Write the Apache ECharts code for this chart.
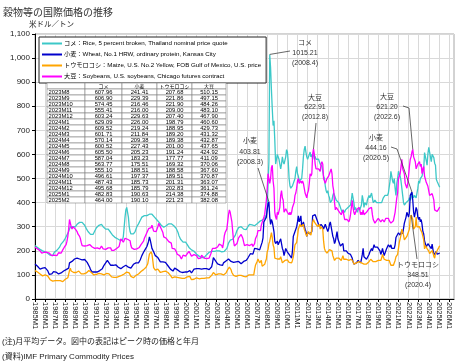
<!DOCTYPE html>
<html><head><meta charset="utf-8">
<script src="https://cdn.jsdelivr.net/npm/echarts@6/dist/echarts.min.js"></script>
<style>html,body{margin:0;padding:0;background:#fff}#c{width:474px;height:363px}</style>
</head><body><div id="c"></div>
<script>
// ---------- data ----------
const FONT = "'Liberation Sans','Noto Sans CJK JP',sans-serif";
const categories = [];
for (let y = 1985; y <= 2026; y++) for (let m = 1; m <= 12; m++) { if (y === 2026 && m > 7) break; categories.push(y + 'M' + m); }

const seriesNames = [
  'コメ：Rice, 5 percent broken, Thailand nominal price quote',
  '小麦：Wheat, No.1 HRW, ordinary protein, Kansas City',
  'トウモロコシ：Maize, U.S. No.2 Yellow, FOB Gulf of Mexico, U.S. price',
  '大豆：Soybeans, U.S. soybeans, Chicago futures contract'
];
const tableHeader = ['', 'コメ', '小麦', 'トウモロコシ', '大豆'];
const yTicks = [0, 1100, 100];

const rice = [
222,220,216,214,212,208,206,210,206,200,198,196,
196,194,192,190,188,186,182,180,178,180,186,194,
196,198,202,206,210,214,220,228,234,236,240,246,
252,260,266,272,280,290,300,306,304,300,296,296,
300,306,310,312,316,318,320,320,318,314,310,306,
298,292,286,280,276,272,268,266,266,268,276,282,
290,296,300,304,306,308,310,310,304,300,298,294,
290,292,294,290,288,284,276,272,266,262,258,256,
254,252,250,248,246,244,242,240,244,260,300,340,
370,380,376,340,300,280,270,266,266,270,276,280,
290,300,306,312,318,326,334,340,346,348,346,344,
344,346,348,350,352,352,354,352,348,346,340,336,
332,328,324,320,316,312,306,300,298,298,300,302,
304,306,310,312,314,314,312,310,308,304,300,296,
292,286,276,264,256,248,244,240,236,236,238,236,
232,226,220,214,210,206,204,202,200,198,194,190,
186,182,180,178,176,174,172,170,170,172,176,180,
184,188,190,194,196,198,198,200,200,198,198,200,
200,202,202,200,198,198,196,196,198,198,200,204,
210,220,232,240,244,246,246,248,250,256,264,274,
284,290,296,298,300,300,298,296,290,286,286,288,
296,300,306,310,312,310,308,306,304,304,306,308,
312,316,318,322,324,326,328,330,332,336,340,350,
385,480,570,1015.21,960,870,790,720,740,660,560,580,
600,600,580,560,540,560,590,570,560,560,590,620,
610,570,500,470,460,460,470,480,490,500,530,550,
520,510,490,490,490,500,540,590,620,635,610,590,
580,590,600,610,590,600,580,600,600,590,580,580,
580,580,570,560,560,550,530,510,500,470,450,440,
450,430,420,400,400,410,430,440,430,420,410,410,
410,400,390,380,370,360,370,370,360,370,370,370,
380,380,380,390,410,440,440,400,370,380,370,360,
370,380,370,370,390,430,410,380,400,400,390,410,
420,430,420,420,440,420,400,400,410,410,400,400,
400,400,400,400,400,400,420,420,430,430,430,430,
440,440,490,530,510,490,480,500,460,430,480,500,
530,530,510,490,460,430,400,390,390,400,400,400,
410,420,410,420,440,430,420,430,430,420,440,460,
490,480,500,500,510,510,540,607.96,606.90,574.45,555.41,603.24,
629.09,609.52,601.71,570.14,600.52,605.50,587.04,563.77,555.10,496.61,487.43,495.68,
482.83,464.00
];
const wheat = [
145,143,140,136,132,128,124,122,124,128,132,132,
130,126,122,118,112,102,96,98,104,110,114,116,
114,112,110,106,104,102,104,108,112,114,116,118,
120,122,124,126,128,150,156,154,156,160,162,166,
168,168,170,172,170,166,162,160,162,164,166,164,
160,156,152,150,146,132,122,116,112,110,110,112,
112,110,112,116,120,118,112,118,126,134,140,146,
150,156,160,154,150,146,140,136,138,140,142,144,
142,140,136,132,130,128,126,124,130,134,138,142,
140,138,136,132,128,126,128,132,136,144,150,152,
150,148,146,150,156,162,170,180,188,194,200,206,
212,218,228,240,258,244,228,210,204,196,188,180,
176,174,172,168,164,154,148,150,154,158,156,152,
148,144,138,134,130,124,120,118,116,122,128,128,
126,122,120,118,114,112,108,110,114,116,112,110,
110,112,114,116,118,114,108,110,116,124,128,126,
126,124,122,126,128,126,124,126,128,126,128,128,
126,126,124,122,124,126,134,150,172,180,168,156,
150,146,144,142,142,138,134,140,150,156,156,158,
160,164,166,164,160,156,150,150,152,150,152,154,
154,152,156,150,148,146,146,148,156,164,162,160,
164,170,172,176,188,190,194,186,190,210,212,206,
208,212,206,204,202,208,236,254,320,326,322,340,
370,395,403.81,340,310,330,320,300,280,240,230,230,
240,225,230,230,250,250,210,200,180,195,210,205,
195,190,185,185,180,170,200,260,270,270,270,300,
320,345,320,330,345,300,300,320,305,290,280,260,
275,280,280,270,265,280,345,350,350,350,350,330,
320,310,300,300,310,310,300,290,290,310,300,290,
280,290,310,320,320,280,260,250,230,240,260,280,
250,240,230,220,215,220,230,200,195,205,200,195,
190,185,185,185,180,170,155,145,140,145,150,145,
160,165,160,150,165,185,210,175,170,170,165,170,
170,185,195,190,210,200,195,225,215,215,215,215,
215,215,200,185,195,210,195,180,180,200,210,215,
225,220,215,225,210,205,205,210,225,255,250,250,
275,280,265,270,285,270,270,315,315,340,360,365,
340,360,430,435,444.16,410,360,340,360,380,370,340,
330,340,320,330,310,280,270,241.41,229.39,216.46,216.00,229.63,
226.00,219.24,211.84,209.38,227.43,205.23,183.23,175.51,188.51,197.37,185.73,185.79,
190.63,190.10
];
const maize = [
118,116,114,112,110,108,104,100,96,96,98,100,
100,98,98,96,94,88,80,72,72,74,76,78,
76,74,74,76,78,80,76,72,70,72,76,80,
82,84,86,88,96,118,128,116,112,112,110,110,
110,110,112,114,116,114,110,104,100,102,104,104,
106,108,110,114,118,118,116,110,104,102,100,100,
100,102,104,106,106,104,100,104,104,102,100,102,
104,106,106,104,104,102,96,92,92,92,90,90,
90,90,92,94,94,92,96,98,98,100,104,108,
110,112,110,108,108,104,94,90,88,88,90,94,
98,100,102,104,104,108,114,116,120,122,124,128,
132,138,146,168,186,190,196,186,160,130,124,120,
124,122,124,122,116,110,106,110,114,116,118,116,
114,112,110,104,102,98,96,88,86,90,92,92,
92,90,92,90,88,86,82,86,86,88,86,88,
90,92,94,94,94,86,80,76,78,82,86,90,
88,86,86,84,82,82,86,90,88,86,86,88,
88,88,88,88,90,92,98,104,110,106,104,100,
102,104,104,104,106,104,100,98,100,102,104,108,
116,122,128,132,130,122,110,104,98,96,94,94,
94,92,98,96,94,98,106,96,94,92,90,92,
96,100,100,100,104,100,102,96,100,122,140,148,
156,166,166,150,150,160,136,136,140,144,156,166,
196,206,230,240,238,276,256,224,214,170,164,162,
166,158,160,166,176,180,150,150,144,160,164,168,
162,158,152,152,154,150,160,175,200,225,230,235,
260,290,300,310,300,300,300,310,290,280,270,260,
270,280,275,275,265,270,320,330,320,320,310,305,
300,300,310,290,300,300,290,240,210,200,200,190,
190,195,205,210,205,200,180,170,160,160,170,175,
175,170,170,165,160,165,180,165,160,165,165,160,
160,160,155,160,165,170,155,145,145,150,150,150,
150,155,150,150,150,155,155,145,145,145,145,148,
150,155,160,165,165,160,155,155,150,155,155,160,
160,165,160,160,170,185,190,165,160,165,160,160,
160,160,155,140,140,140,140,145,160,175,180,185,
210,235,240,265,290,285,265,245,240,245,260,270,
275,290,335,348.51,340,330,290,290,300,340,300,300,
305,300,290,290,275,270,245,207.68,221.86,221.90,209.00,207.40,
198.79,188.95,189.20,189.38,201.00,191.24,177.77,169.32,188.58,189.51,201.31,202.83,
214.38,221.23
];
const soybeans = [
215,212,210,208,206,204,200,196,190,188,190,194,
196,194,194,196,194,190,188,184,180,178,180,182,
180,178,180,184,192,196,194,190,196,204,210,216,
222,226,240,260,290,330,322,300,290,300,296,298,
290,284,280,270,266,260,250,234,222,220,222,220,
218,218,222,226,228,226,222,218,216,214,210,210,
212,210,212,212,210,208,206,220,220,208,210,206,
206,210,214,212,214,218,212,202,200,198,202,206,
208,210,212,216,218,222,250,252,242,236,240,252,
256,250,248,246,250,242,222,212,206,204,206,208,
210,208,210,212,214,218,226,226,232,240,252,258,
268,274,276,292,296,290,296,306,306,282,274,276,
280,290,300,314,320,316,292,286,276,258,264,262,
252,250,244,238,232,234,232,210,202,204,208,206,
196,186,180,180,180,176,166,174,182,180,178,178,
182,188,194,198,198,192,178,170,180,184,182,188,
180,172,168,166,168,170,182,188,180,170,168,172,
168,168,168,170,174,188,200,210,208,202,210,210,
210,216,220,228,234,232,222,212,232,262,276,276,
290,320,350,370,360,340,320,280,240,220,220,226,
230,238,254,250,252,268,270,252,236,222,222,228,
226,224,222,222,226,224,228,218,216,230,250,256,
266,284,280,278,284,306,318,316,338,352,382,410,
460,520,500,480,500,545,555,490,460,360,340,330,
360,350,345,380,430,450,420,410,360,360,375,370,
360,360,350,360,350,360,380,390,400,430,440,460,
490,500,480,480,490,480,490,480,460,440,440,420,
440,450,480,520,510,520,600,622.91,600,560,540,540,
540,540,540,530,560,570,560,500,500,480,480,500,
500,510,520,530,540,520,470,450,400,370,380,380,
370,370,360,360,350,350,370,350,330,330,330,330,
330,320,330,350,380,410,380,360,350,360,370,370,
370,380,370,350,360,350,370,350,350,355,360,360,
365,375,380,380,380,350,330,330,315,320,325,330,
335,330,330,320,315,330,330,320,320,335,330,340,
335,325,320,315,315,320,325,330,360,390,420,440,
500,510,520,550,580,540,530,520,480,470,460,480,
510,550,580,590,610,621.20,590,580,570,540,540,560,
560,570,550,560,520,540,550,510.15,497.15,484.26,483.10,467.90,
460.60,429.73,431.32,432.87,437.65,424.92,411.09,370.06,367.60,370.87,363.07,361.24,
374.88,382.08
];
const colors = ['#3cc8c8', '#0000cc', '#ffa500', '#ff00ff'];
const allData = [rice, wheat, maize, soybeans];

// annotations: series index, peak category, text lines
const annotations = [
  { s: 0, cat: '2008M4', lines: ['コメ', '1015.21', '(2008.4)'] },
  { s: 3, cat: '2012M8', lines: ['大豆', '622.91', '(2012.8)'] },
  { s: 3, cat: '2022M6', lines: ['大豆', '621.20', '(2022.6)'] },
  { s: 1, cat: '2022M5', lines: ['小麦', '444.16', '(2020.5)'] },
  { s: 1, cat: '2008M3', lines: ['小麦', '403.81', '(2008.3)'] },
  { s: 2, cat: '2022M4', lines: ['トウモロコシ', '348.51', '(2020.4)'] }
];
// layout for annotation text blocks (pixels)
const annoLayout = [
  { x: 305, ys: [43, 53, 63], lead: [[290, 51]] },
  { x: 315, ys: [98, 107, 117], lead: [[316, 123]] },
  { x: 387, ys: [97, 107, 117], lead: [[403, 106], [409, 108]] },
  { x: 376, ys: [138, 148, 158], lead: [[391, 147], [397, 149]] },
  { x: 250, ys: [141, 152, 162], lead: [[258, 168]] },
  { x: 418, ys: [265, 275, 285], lead: [[417, 259]] }
];

// ---------- chart ----------
const chart = echarts.init(document.getElementById('c'), null, { renderer: 'canvas' });
chart.setOption({
  animation: false,
  textStyle: { fontFamily: FONT },
  grid: { left: 35, right: 20, top: 34, bottom: 64, show: true, borderColor: '#a6a6a6', borderWidth: 1 },
  legend: {
    orient: 'vertical', left: 39, top: 37, icon: 'rect', itemWidth: 20, itemHeight: 2, itemGap: 4,
    padding: [3, 5, 3, 3], borderColor: '#222', borderWidth: 1, backgroundColor: '#fff',
    textStyle: { fontSize: 6.2, lineHeight: 7, color: '#000', fontFamily: FONT, padding: [0, 0, 0, -3] },
    data: seriesNames
  },
  xAxis: {
    type: 'category', data: categories, boundaryGap: false,
    axisLine: { lineStyle: { color: '#000', width: 1 } },
    axisTick: { interval: 11, length: 3, lineStyle: { color: '#000' } },
    axisLabel: { interval: 11, rotate: -90, fontSize: 7.5, margin: 3, color: '#222', fontFamily: FONT },
    splitLine: { show: true, interval: 11, lineStyle: { color: '#d9d9d9', width: 1 } }
  },
  yAxis: {
    type: 'value', min: yTicks[0], max: yTicks[1], interval: yTicks[2],
    axisLine: { show: true, lineStyle: { color: '#000' } },
    axisTick: { show: true, length: 3, lineStyle: { color: '#000' } },
    axisLabel: { fontSize: 8, margin: 5, color: '#222', fontFamily: FONT, formatter: v => v.toLocaleString('en-US') },
    splitLine: { lineStyle: { color: '#d9d9d9', width: 1 } }
  },
  series: seriesNames.map((n, i) => ({
    name: n, type: 'line', data: allData[i], showSymbol: false, symbol: 'none',
    lineStyle: { width: 1.3, color: colors[i] }, itemStyle: { color: colors[i] }, z: 2 + i
  }))
});

// ---------- graphics: titles, table, annotations ----------
const g = [];
const txt = (t, x, y, size, opts) => g.push(Object.assign({ type: 'text', z: 100, style: Object.assign({ text: t, x: x, y: y, fontSize: size, fontFamily: FONT, fill: '#222', textVerticalAlign: 'middle' }, opts || {}) }));
txt('穀物等の国際価格の推移', 3, 13, 10, { fill: '#333' });
txt('米ドル／トン', 29, 25, 7.5);
txt('(注)月平均データ。図中の表記はピーク時の価格と年月', 2, 342, 8);
txt('(資料)IMF Primary Commodity Prices', 2, 357, 8);

// table built from the last 19 months of the series
const nRows = 19;
const startIdx = rice.length - nRows;
const rows = [tableHeader];
for (let i = 0; i < nRows; i++) {
  const k = startIdx + i;
  rows.push([categories[k]].concat(allData.map(d => d[k].toFixed(2))));
}
const colEdges = [47, 85, 122, 157, 192, 226];
const rowH = 6, tTop = 83;
rows.forEach((r, ri) => {
  for (let c = 0; c < 5; c++) {
    const x0 = colEdges[c], x1 = colEdges[c + 1], y0 = tTop + ri * rowH;
    g.push({ type: 'rect', z: 90, shape: { x: x0, y: y0, width: x1 - x0, height: rowH }, style: { fill: '#fff', stroke: '#7f7f7f', lineWidth: 0.6 } });
    if (r[c]) {
      const left = (c === 0 && ri > 0);
      g.push({ type: 'text', z: 95, style: { text: r[c], x: left ? x0 + 1.5 : (x0 + x1) / 2, y: y0 + rowH / 2 + 0.3,
        textAlign: left ? 'left' : 'center', textVerticalAlign: 'middle', fontSize: ri === 0 ? 5 : 5.8, fontFamily: FONT, fill: '#000' } });
    }
  }
});
annotations.forEach((a, i) => {
  const L = annoLayout[i];
  const idx = categories.indexOf(a.cat);
  const p = chart.convertToPixel({ gridIndex: 0 }, [idx, allData[a.s][idx]]);
  a.lines.forEach((t, j) => txt(t, L.x, L.ys[j], 7, { textAlign: 'center', fill: '#333' }));
  g.push({ type: 'polyline', z: 99, shape: { points: L.lead.concat([p]) }, style: { stroke: '#404040', lineWidth: 0.8, fill: null } });
});
chart.setOption({ graphic: g });
</script>
</body></html>
